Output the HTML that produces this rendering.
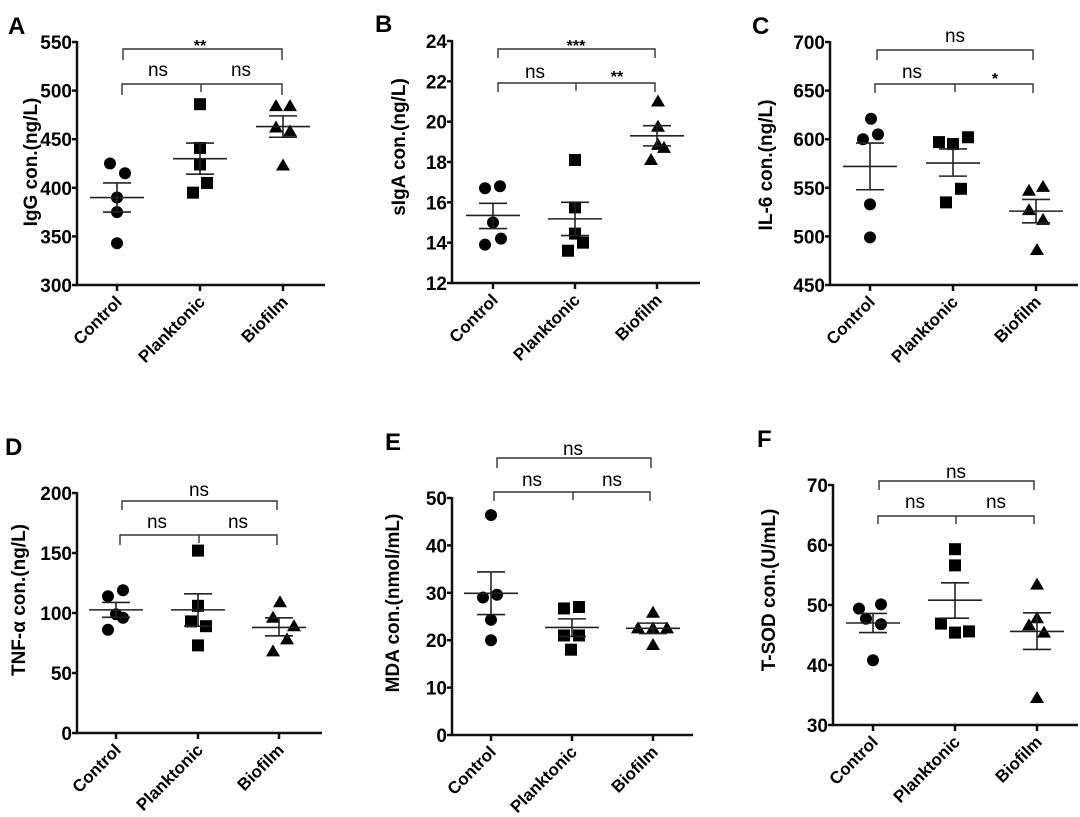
<!DOCTYPE html>
<html><head><meta charset="utf-8"><style>
html,body{margin:0;padding:0;background:#fff;}
svg{display:block;font-family:"Liberation Sans",Arial,sans-serif;}
</style></head><body>
<svg id="s" width="1080" height="817" viewBox="0 0 1080 817" xmlns="http://www.w3.org/2000/svg"></svg>
<script>
const P=[
{L:'A',lx:8,ly:34,ax:77,yt:42,yb:285,v0:300,v1:550,step:50,xe:325,cats:[117,200,283],ylab:'IgG con.(ng/L)',ylx:30,yly:162,
 br:[[49,123,282,60,'**',42,200,16],[84,122,282,95,null]],mid:201,sub:[['ns',158,70],['ns',241,70]],
 d:[[[425,110],[415,125],[390,117],[375,117],[343,117]],[[486,200],[441,200],[424,200],[405,207],[395,193]],[[484,276],[484,290],[462,276],[458,290],[423,283]]],
 m:[[390,375,405],[430,414,446],[463,452,474]]},
{L:'B',lx:375,ly:32,ax:452,yt:41,yb:283,v0:12,v1:24,step:2,xe:700,cats:[493,575,657],ylab:'sIgA con.(ng/L)',ylx:398,yly:147,
 br:[[49,498,655,58,'***',42,576,16],[83,498,655,92,null]],mid:576,sub:[['ns',535,72],['**',617,73,16]],
 d:[[[16.7,485],[16.8,500],[15.0,493],[14.2,501],[13.9,485]],[[18.1,575],[15.75,575],[14.45,575],[13.6,568],[14.0,583]],[[21.0,658],[19.75,658],[18.85,658],[18.7,664],[18.1,651]]],
 m:[[15.35,14.7,15.95],[15.18,14.35,16.0],[19.3,18.8,19.8]]},
{L:'C',lx:752,ly:34,ax:830,yt:42,yb:285,v0:450,v1:700,step:50,xe:1078,cats:[870,953,1036],ylab:'IL-6 con.(ng/L)',ylx:765,yly:165,
 br:[[50,877,1033,60,'ns',36,955],[84,875,1033,93,null]],mid:955,sub:[['ns',912,72],['*',995,75,16]],
 d:[[[621,871],[605,878],[600,863],[533,870],[499,870]],[[597,939],[595,953],[602,968],[549,961],[535,946]],[[547,1029],[551,1043],[527,1029],[517,1043],[486,1037]]],
 m:[[572,548,596],[575.5,562,590],[526,514,538]]},
{L:'D',lx:5,ly:455,ax:77,yt:493,yb:733,v0:0,v1:200,step:50,xe:322,cats:[116,198,279],ylab:'TNF-α con.(ng/L)',ylx:18,yly:600,
 br:[[501,122,277,510,'ns',490,199],[535,120,277,545,null]],mid:199,sub:[['ns',157,522],['ns',238,522]],
 d:[[[114,108],[119,123],[99,116],[96,123],[86,108]],[[152,198],[106,198],[93,191],[89,206],[73,198]],[[109,280],[96,273],[89,294],[78,287],[68,273]]],
 m:[[102.6,96.4,108.8],[102.6,89,116],[88,81,96]]},
{L:'E',lx:385,ly:450,ax:452,yt:498,yb:735,v0:0,v1:50,step:10,xe:693,cats:[491,572,653],ylab:'MDA con.(nmol/mL)',ylx:392,yly:603,
 br:[[458,497,651,468,'ns',449,573],[492,494,650,501,null]],mid:573,sub:[['ns',532,480],['ns',612,480]],
 d:[[[46.4,491],[29.0,483],[29.6,497],[24.3,491],[20.0,491]],[[26.7,564],[27.0,579],[21.0,564],[21.0,579],[18.0,571]],[[25.8,653],[22.5,638],[22.5,653],[22.5,667],[19.0,653]]],
 m:[[29.9,25.4,34.4],[22.7,20.8,24.5],[22.5,21.4,23.6]]},
{L:'F',lx:757,ly:447,ax:833,yt:485,yb:725,v0:30,v1:70,step:10,xe:1078,cats:[873,955,1037],ylab:'T-SOD con.(U/mL)',ylx:768,yly:590,
 br:[[481,879,1034,490,'ns',472,956],[516,878,1034,524,null]],mid:956,sub:[['ns',915,502],['ns',996,502]],
 d:[[[49.4,859],[50.1,881],[47.7,866],[46.8,881],[40.8,873]],[[59.3,955],[56.6,955],[46.9,941],[45.4,955],[45.6,969]],[[53.4,1037],[47.8,1037],[46.6,1029],[45.4,1044],[34.5,1037]]],
 m:[[47,45.4,48.6],[50.8,47.8,53.7],[45.6,42.6,48.7]]}
];
let h='';
const names=['Control','Planktonic','Biofilm'];
for(const p of P){
 const Y=v=>p.yb-(v-p.v0)/(p.v1-p.v0)*(p.yb-p.yt);
 h+=`<text x="${p.lx}" y="${p.ly}" font-size="24" font-weight="bold">${p.L}</text>`;
 h+=`<path d="M${p.ax},${p.yt-1} V${p.yb} H${p.xe}" fill="none" stroke="#111" stroke-width="2.5"/>`;
 for(let v=p.v0;v<=p.v1+1e-9;v+=p.step){const y=Y(v);
  h+=`<line x1="${p.ax-5}" y1="${y}" x2="${p.ax}" y2="${y}" stroke="#111" stroke-width="2.5"/>`;
  h+=`<text x="${p.ax-5}" y="${y+7}" font-size="19" font-weight="bold" text-anchor="end">${v}</text>`;}
 p.cats.forEach((c,i)=>{
  h+=`<line x1="${c}" y1="${p.yb}" x2="${c}" y2="${p.yb+6}" stroke="#111" stroke-width="2.5"/>`;
  h+=`<text transform="translate(${c+6},${p.yb+18}) rotate(-45)" font-size="17" font-weight="bold" text-anchor="end">${names[i]}</text>`;
 });
 h+=`<text transform="translate(${p.ylx+7},${p.yly}) rotate(-90)" font-size="19" font-weight="bold" text-anchor="middle">${p.ylab}</text>`;
 const b0=p.br[0],b1=p.br[1];
 h+=`<path d="M${b0[1]},${b0[3]} V${b0[0]} H${b0[2]} V${b0[3]}" fill="none" stroke="#333" stroke-width="1.4"/>`;
 h+=`<path d="M${b1[1]},${b1[3]} V${b1[0]} H${b1[2]} V${b1[3]} M${p.mid},${b1[0]} V${b1[0]+8}" fill="none" stroke="#333" stroke-width="1.4"/>`;
 const fs0=b0[7]||19;
 h+=`<text x="${b0[6]}" y="${b0[5]+(fs0==16?9:6)}" font-size="${fs0}" font-weight="${fs0==16?'bold':'normal'}" text-anchor="middle">${b0[4]}</text>`;
 for(const s of p.sub){const fs=s[3]||19;h+=`<text x="${s[1]}" y="${s[2]+(fs==16?9:6)}" font-size="${fs}" font-weight="${fs==16?'bold':'normal'}" text-anchor="middle">${s[0]}</text>`;}
 p.d.forEach((g,i)=>{for(const [v,x] of g){const y=Y(v);
  if(i==0)h+=`<circle cx="${x}" cy="${y}" r="6" fill="#000"/>`;
  else if(i==1)h+=`<rect x="${x-6}" y="${y-6}" width="12" height="12" fill="#000"/>`;
  else h+=`<path d="M${x},${y-7} L${x+7},${y+5} L${x-7},${y+5}Z" fill="#000"/>`;}});
 p.m.forEach((m,i)=>{const c=p.cats[i];const ym=Y(m[0]),yl=Y(m[1]),yh=Y(m[2]);
  h+=`<path d="M${c-27},${ym} H${c+27} M${c-14},${yl} H${c+14} M${c-14},${yh} H${c+14} M${c},${yl} V${yh}" stroke="#222" stroke-width="1.6" fill="none"/>`;});
}
document.getElementById('s').innerHTML=h;
</script>
</body></html>
